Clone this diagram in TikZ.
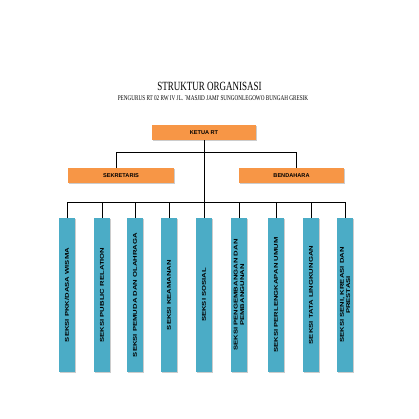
\documentclass[tikz,border=0pt]{standalone}
\usepackage{fontspec}
\usetikzlibrary{shadows}
\newfontfamily\judulfont{Liberation Serif}[FakeStretch=0.72]
\newfontfamily\kotakfont{Liberation Sans}
\newfontfamily\seksifont{Liberation Sans}[FakeStretch=1.4]
\definecolor{oranye}{RGB}{247,150,70}
\definecolor{biru}{RGB}{75,172,198}
\begin{document}
\begin{tikzpicture}[x=1pt,y=1pt,yscale=-1,xscale=1,
    jabatan/.style={draw=none,fill=oranye,minimum height=15pt,inner sep=0pt,
      font=\kotakfont\bfseries\fontsize{5.6}{6.5}\selectfont,
      drop shadow={shadow xshift=1pt,shadow yshift=-1.2pt,fill=black!20,opacity=1}},
    seksi/.style={draw=none,fill=biru,rotate=90,minimum width=154pt,minimum height=16pt,
      inner sep=1pt,align=center,font=\seksifont\bfseries\fontsize{5.5}{6.3}\selectfont,
      drop shadow={shadow xshift=1pt,shadow yshift=-1.2pt,fill=black!20,opacity=1}},
    garis/.style={line width=0.9pt,black}]
  \useasboundingbox[fill=white] (0,0) rectangle (419,419);

  % Judul
  \node (judul) at (209.5,86) {\judulfont\fontsize{12.5}{14}\selectfont STRUKTUR ORGANISASI};
  \node (subjudul) at (213,98.5) {\judulfont\fontsize{7.2}{8}\selectfont PENGURUS RT 02 RW IV JL. `MASJID JAMI' SUNGONLEGOWO BUNGAH GRESIK};

  % Pengurus inti
  \node [jabatan,minimum width=104pt] (ketua) at (204,132.5) {KETUA RT};
  \node [jabatan,minimum width=106pt] (sekretaris) at (121,175.5) {SEKRETARIS};
  \node [jabatan,minimum width=105pt] (bendahara) at (291.5,175.5) {BENDAHARA};

  % Seksi-seksi
  \node [seksi] (pkk) at (67,295) {SEKSI PKK/DASA WISMA};
  \node [seksi] (humas) at (102,295) {SEKSI PUBLIC RELATION};
  \node [seksi] (pemuda) at (135,295) {SEKSI PEMUDA DAN OLAHRAGA};
  \node [seksi] (keamanan) at (169,295) {SEKSI KEAMANAN};
  \node [seksi] (sosial) at (204,295) {SEKSI SOSIAL};
  \node [seksi] (pembangunan) at (239,295) {SEKSI PENGEMBANGAN DAN\\PEMBANGUNAN};
  \node [seksi] (perlengkapan) at (276,295) {SEKSI PERLENGKAPAN UMUM};
  \node [seksi] (lingkungan) at (311,295) {SEKSI TATA LINGKUNGAN};
  \node [seksi] (prestasi) at (345,295) {SEKSI SENI, KREASI DAN\\PRESTASI};

  % Garis penghubung
  \coordinate (cabang) at (204,152.5);
  \coordinate (barkiri) at (67,202);
  \coordinate (barkanan) at (345,202);
  \draw [garis] (ketua.south) -- (sosial.east);
  \draw [garis] ([xshift=-5pt]sekretaris.north) |- (cabang) -| ([xshift=4.5pt]bendahara.north);
  \draw [garis] (barkiri) -- (barkanan);
  \foreach \s in {pkk,humas,pemuda,keamanan,pembangunan,perlengkapan,lingkungan,prestasi}
    \draw [garis] (\s.east) -- (\s.east |- barkiri);
\end{tikzpicture}
\end{document}
